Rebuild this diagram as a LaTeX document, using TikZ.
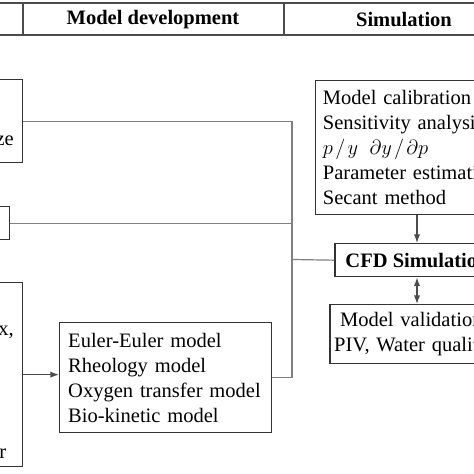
\documentclass[tikz,border=0pt]{standalone}
\usepackage{fontspec}
\setmainfont{Liberation Serif}
\usepackage{amsmath}
\usetikzlibrary{arrows.meta, positioning, calc}

\begin{document}
\begin{tikzpicture}[
  x=0.585pt, y=-0.585pt,
  >={Latex[length=5pt,width=3.6pt]},
  inbox/.style={rectangle, draw=black!80, line width=0.8pt, align=right, text width=60pt, inner xsep=5pt, inner ysep=0pt, anchor=north east, font=\fontsize{12}{14.4}\selectfont},
  modelbox/.style={rectangle, draw=black!80, line width=0.8pt, align=left, inner xsep=5pt, inner ysep=0pt, font=\fontsize{12}{14.6}\selectfont},
  simbox/.style={rectangle, draw=black!80, line width=0.8pt, align=center, inner sep=0pt, font=\fontsize{12}{14.6}\selectfont},
  headtxt/.style={font=\fontsize{12}{14}\selectfont\bfseries, inner sep=0pt},
  headline/.style={draw=black!70, line width=1.1pt},
  link/.style={draw=black!50, line width=0.7pt},
  arrow/.style={->, draw=black!70, line width=0.7pt}
]

% ---------------------------------------------------
% Frame (crop of the original figure)
% ---------------------------------------------------
\useasboundingbox (0,0) rectangle (474,474);
\clip (0,0) rectangle (474,474);

\def\xDevSep{22.7}
\def\xSimSep{284}
\def\xMerge{292}
\def\xRight{417}

\def\yHeadTop{3}
\def\yHeadBot{35}

% ---------------------------------------------------
% 1. Column headers
% ---------------------------------------------------
\draw[headline] (0,\yHeadTop) -- (474,\yHeadTop);
\draw[headline] (0,\yHeadBot) -- (474,\yHeadBot);
\draw[headline] (\xDevSep,\yHeadTop) -- (\xDevSep,\yHeadBot);
\draw[headline] (\xSimSep,\yHeadTop) -- (\xSimSep,\yHeadBot);

\node[headtxt] (devhead) at (153,19.5) {Model development};
\node[headtxt] (simhead) at (404,19.5) {Simulation};

% ---------------------------------------------------
% 2. Input boxes (cut at the left edge)
% ---------------------------------------------------
\node[inbox, minimum height=48.6pt] (sizein) at (23,79) {~\\~\\ze};

\node[inbox, minimum height=19.3pt] (shortin) at (10,206) {e};

\node[inbox, minimum height=107.6pt] (listin) at (23,282) {\rule{0pt}{16pt}\\x,\strut\\\strut\\\strut\\\strut\\\strut\\r\kern4.4pt\strut};

% ---------------------------------------------------
% 3. Model development
% ---------------------------------------------------
\node[modelbox, anchor=north west, text width=114pt, minimum height=64.4pt] (submodels) at (59,322) {Euler-Euler model\\Rheology model\\Oxygen transfer model\\Bio-kinetic model};

% ---------------------------------------------------
% 4. Simulation
% ---------------------------------------------------
\node[modelbox, anchor=north, inner xsep=4.5pt, text width=110pt, minimum height=78.4pt] (calib) at (\xRight,80) {Model calibration\\Sensitivity analysis\\$p\mkern2mu/\mkern2mu y\;\;\partial y\mkern2mu/\mkern2mu\partial p$\\Parameter estimation\\Secant method};

\node[simbox, anchor=north, font=\fontsize{12}{14}\selectfont\bfseries, minimum width=96pt, minimum height=19.3pt] (cfd) at (\xRight,243) {CFD Simulation};

\node[modelbox, anchor=north, inner xsep=2.4pt, text width=97pt, minimum height=34.5pt] (valid) at (\xRight,304) {\hspace*{3.5pt}Model validation\\PIV, Water quality};

% ---------------------------------------------------
% Draw Connections
% ---------------------------------------------------
\coordinate (merge) at (\xMerge,259.5);

\draw[link] (sizein.east) -| (merge);
\draw[link] (submodels.east) -| (merge);
\draw[link] (shortin.east) -- (shortin.east -| merge);
\draw[link] (merge) -- (cfd.west);

\draw[arrow] (listin.east) -- (listin.east -| submodels.west);

\draw[arrow] (calib.south) -- (cfd.north);
\draw[arrow, <->] (cfd.south) -- (valid.north);

\end{tikzpicture}
\end{document}
